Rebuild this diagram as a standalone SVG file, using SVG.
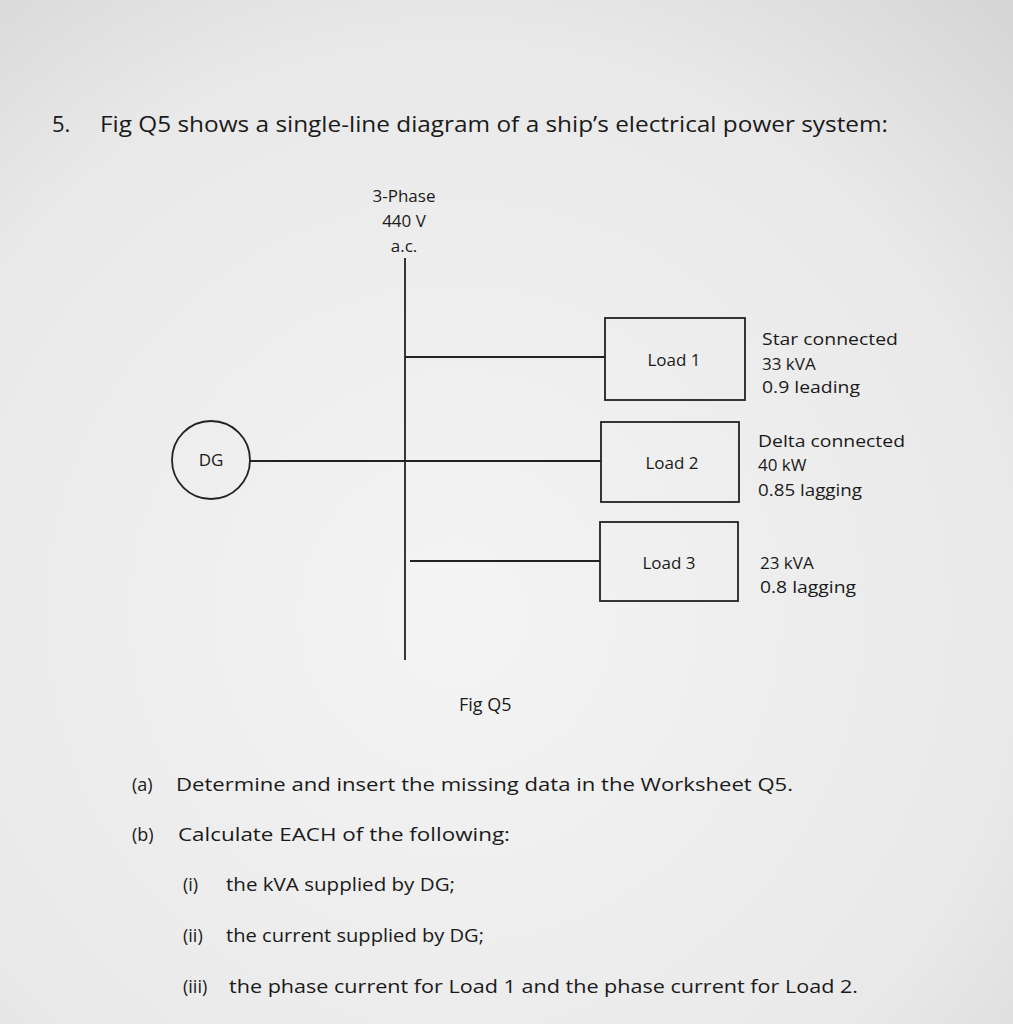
<svg xmlns="http://www.w3.org/2000/svg" width="1013" height="1024" viewBox="0 0 1013 1024">
<defs>
<radialGradient id="bg" cx="0.45" cy="0.6" r="0.8">
<stop offset="0" stop-color="#f4f4f4"/><stop offset="0.7" stop-color="#e9e9e9"/><stop offset="1" stop-color="#d6d6d6"/>
</radialGradient>
<style>
text{font-family:"Open Sans","Liberation Sans",sans-serif;fill:#1a1a1a}
.t{font-size:22px}.s{font-size:17px}.m{font-size:18px}
.ln{stroke:#222;stroke-width:1.8;fill:none}
.bx{stroke:#222;stroke-width:1.8;fill:none}
</style>
</defs>
<rect width="1013" height="1024" fill="url(#bg)"/>
<text class="t" x="52" y="132">5.</text>
<text class="t" x="100" y="132" textLength="788" lengthAdjust="spacingAndGlyphs">Fig Q5 shows a single-line diagram of a ship’s electrical power system:</text>
<g id="source-label" text-anchor="middle">
<text class="s" x="404" y="202">3-Phase</text>
<text class="s" x="404" y="227">440 V</text>
<text class="s" x="404" y="252">a.c.</text>
</g>
<g id="connectors">
<line class="ln" x1="405" y1="258" x2="405" y2="660"/>
<line class="ln" x1="405" y1="357" x2="605" y2="357"/>
<line class="ln" x1="250" y1="461" x2="601" y2="461"/>
<line class="ln" x1="410" y1="561" x2="600" y2="561"/>
</g>
<g id="dg"><circle class="bx" cx="211" cy="460" r="39"/><text class="s" x="211" y="466" text-anchor="middle">DG</text></g>
<g id="load1"><rect class="bx" x="605" y="318" width="140" height="82"/><text class="s" x="674" y="366" text-anchor="middle">Load 1</text></g>
<g id="load2"><rect class="bx" x="601" y="422" width="138" height="80"/><text class="s" x="672" y="469" text-anchor="middle">Load 2</text></g>
<g id="load3"><rect class="bx" x="600" y="522" width="138" height="79"/><text class="s" x="669" y="569" text-anchor="middle">Load 3</text></g>
<g id="load1-data"><text class="s" x="762" y="345" textLength="136" lengthAdjust="spacingAndGlyphs">Star connected</text><text class="s" x="762" y="370">33 kVA</text><text class="s" x="762" y="393" textLength="98" lengthAdjust="spacingAndGlyphs">0.9 leading</text></g>
<g id="load2-data"><text class="s" x="758" y="447" textLength="147" lengthAdjust="spacingAndGlyphs">Delta connected</text><text class="s" x="758" y="471">40 kW</text><text class="s" x="758" y="496" textLength="104" lengthAdjust="spacingAndGlyphs">0.85 lagging</text></g>
<g id="load3-data"><text class="s" x="760" y="569">23 kVA</text><text class="s" x="760" y="593" textLength="96" lengthAdjust="spacingAndGlyphs">0.8 lagging</text></g>
<text class="m" x="459" y="711">Fig Q5</text>
<text class="m" x="132" y="791">(a)</text>
<text class="m" x="176" y="791" textLength="617" lengthAdjust="spacingAndGlyphs">Determine and insert the missing data in the Worksheet Q5.</text>
<text class="m" x="132" y="841">(b)</text>
<text class="m" x="178" y="841" textLength="332" lengthAdjust="spacingAndGlyphs">Calculate EACH of the following:</text>
<text class="m" x="183" y="891">(i)</text>
<text class="m" x="226" y="891" textLength="229" lengthAdjust="spacingAndGlyphs">the kVA supplied by DG;</text>
<text class="m" x="183" y="942">(ii)</text>
<text class="m" x="226" y="942" textLength="258" lengthAdjust="spacingAndGlyphs">the current supplied by DG;</text>
<text class="m" x="183" y="993">(iii)</text>
<text class="m" x="229" y="993" textLength="629" lengthAdjust="spacingAndGlyphs">the phase current for Load 1 and the phase current for Load 2.</text>
</svg>
